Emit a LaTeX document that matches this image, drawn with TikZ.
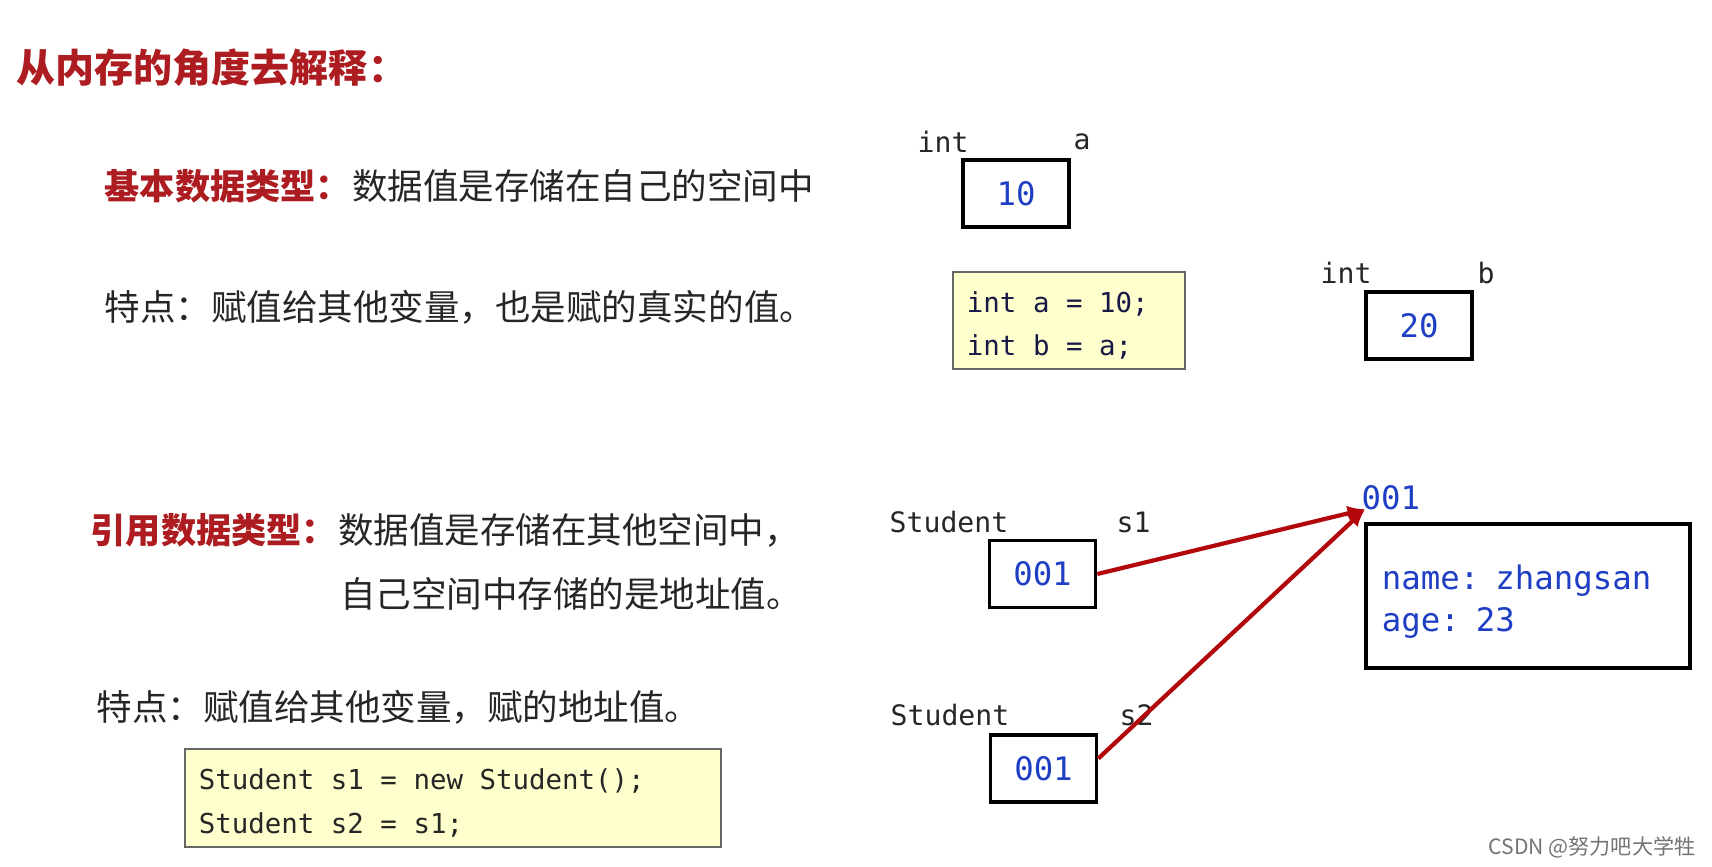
\documentclass[tikz,border=0pt]{standalone}
\usepackage{fontspec}
\setmainfont{Noto Sans CJK SC}
\setmonofont{DejaVu Sans Mono}
\newfontfamily\codemono{DejaVu Sans Mono}
\usepackage{xcolor}
\usepackage{tikz}
\usetikzlibrary{arrows.meta,calc,positioning}

\definecolor{headred}{RGB}{172,28,32}
\definecolor{valblue}{RGB}{30,62,196}
\definecolor{codebg}{RGB}{255,255,206}
\definecolor{codeink}{RGB}{24,24,70}
\definecolor{refred}{RGB}{178,8,12}

\begin{document}
\begin{tikzpicture}[
  x=0.01cm, y=-0.01cm,
  txt/.style={anchor=west, inner sep=0pt, font=\fontsize{10.1}{12}\selectfont, text=black!85},
  head/.style={txt, font=\bfseries\fontsize{10}{12}\selectfont, text=headred},
  title/.style={head, font=\bfseries\fontsize{11.1}{13}\selectfont},
  lbl/.style={anchor=west, inner sep=0pt, font=\codemono\fontsize{8}{10}\selectfont, text=black!85},
  cell/.style={draw, line width=1pt, minimum width=1.06cm, minimum height=0.67cm, inner sep=0pt,
    font=\codemono\fontsize{9.2}{11}\selectfont, text=valblue},
  monolines/.style={align=left, text depth=10.6pt, execute at begin node={\spaceskip=0.602em\relax}},
  codebox/.style={monolines, draw=black!60, line width=0.5pt, fill=codebg, inner xsep=4pt,
    font=\codemono\fontsize{7.8}{12.3}\selectfont, text=codeink},
  arrow/.style={-{Latex[length=5pt,width=4.5pt]}, line width=1.2pt, draw=refred}
]
\useasboundingbox (0,0) rectangle (1712,866);

% left column: explanation
\node[title] (title) at (16,68) {从内存的角度去解释：};
\node[head] (basic) at (104,186) {基本数据类型：};
\node[txt, right=0pt of basic] (basicdesc) {数据值是存储在自己的空间中};
\node[txt] (basicnote) at (104,307) {特点：赋值给其他变量，也是赋的真实的值。};
\node[head] (ref) at (90,530) {引用数据类型：};
\node[txt, right=0pt of ref] (refdesc) {数据值是存储在其他空间中，};
\node[txt] (refdesc2) at ($(refdesc.west)+(2,64)$) {自己空间中存储的是地址值。};
\node[txt] (refnote) at (96,707) {特点：赋值给其他变量，赋的地址值。};
\node[codebox, minimum height=0.98cm, text width=5.08cm, text=black!85] (refcode) at (453,798)
  {Student s1 = new Student();\\Student s2 = s1;};

% right column: basic types
\node[cell] (a) at (1016,193.5) {10};
\node[lbl] (atype) at (917,142) {int};
\node[lbl] (aname) at (1073,142) {a};
\node[codebox, minimum height=0.97cm, text width=2.04cm] (basiccode) at (1069,320.5)
  {int a = 10;\\int b = a;};
\node[cell] (b) at (1419,325.5) {20};
\node[lbl] (btype) at (1320,273) {int};
\node[lbl] (bname) at (1477,273) {b};

% right column: reference types
\node[cell] (s1) at (1042.5,574) {001};
\node[lbl] (s1type) at (889,522) {Student};
\node[lbl] (s1name) at (1116,522) {s1};
\node[cell] (s2) at (1043.5,768.5) {001};
\node[lbl] (s2type) at (890,715) {Student};
\node[lbl] (s2name) at (1119,715) {s2};
\node[monolines, draw, line width=1pt, minimum width=3.24cm, minimum height=1.44cm,
  inner xsep=4.5pt, text width=2.92cm, text=valblue,
  font=\codemono\fontsize{9.2}{11.9}\selectfont] (obj) at (1528,596)
  {name: zhangsan\\age: 23};
\node[lbl, font=\codemono\fontsize{9.2}{11}\selectfont, text=valblue] (addr) at (1361,498) {001};
\coordinate (objtip) at ($(obj.north west)+(1,-13)$);

\draw[arrow] (s1.east) -- (objtip);
\draw[arrow] ($(s2.east)+(0,-10)$) -- (objtip);

\node[anchor=east, inner sep=0pt, font=\fontsize{6}{7}\selectfont, text=black!55] (mark) at (1696,847) {CSDN @努力吧大学牲};
\end{tikzpicture}
\end{document}
